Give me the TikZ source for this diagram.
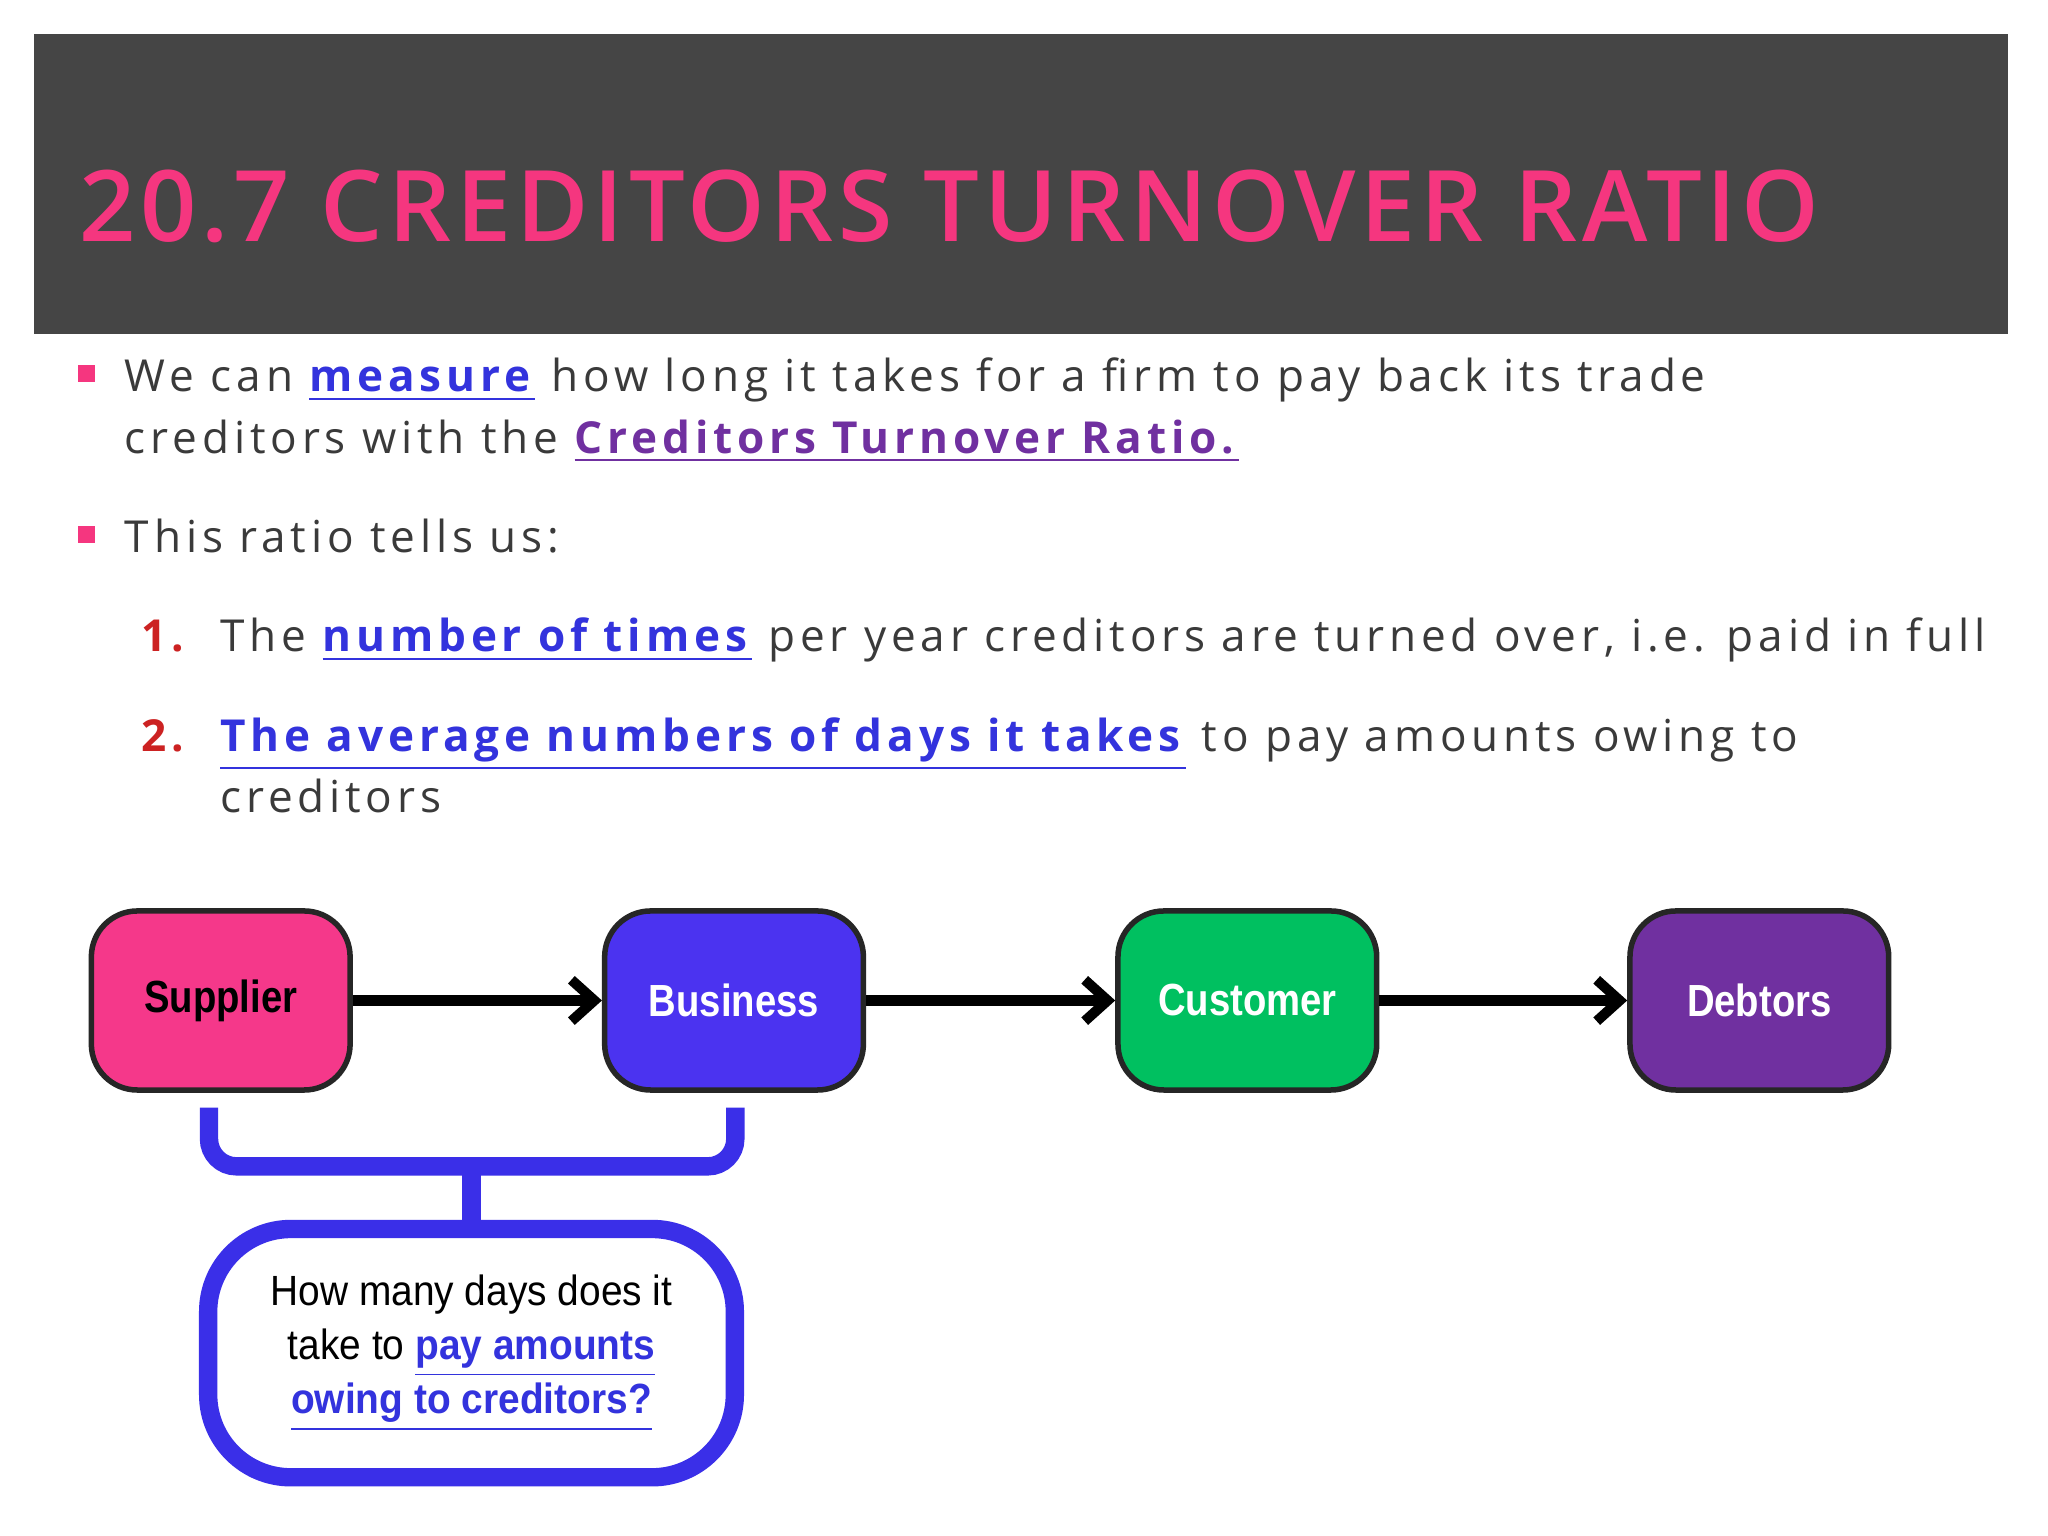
\documentclass[tikz,border=0pt]{standalone}
\usepackage{fontspec}
\setmainfont{Open Sans}
\newfontfamily\titlefont[LetterSpace=5,UprightFont=* Semibold,BoldFont=* Bold]{Open Sans}
\newfontfamily\bodyfont[LetterSpace=11]{Open Sans}
\newfontfamily\boxfont[FakeStretch=0.85]{Liberation Sans}
\newfontfamily\qfont[FakeStretch=0.92]{Liberation Sans}
\definecolor{titlebg}{HTML}{454545}
\definecolor{pinkc}{HTML}{F5367F}
\definecolor{txt}{HTML}{3A3A3A}
\definecolor{linkb}{HTML}{3333DD}
\definecolor{linkp}{HTML}{7030A0}
\definecolor{redn}{HTML}{CC2222}
\definecolor{bpink}{HTML}{F5388A}
\definecolor{bblue}{HTML}{4B33F0}
\definecolor{bgreen}{HTML}{00C060}
\definecolor{bpurp}{HTML}{7030A0}
\definecolor{brk}{HTML}{3A2FE8}
\newcommand{\lb}[1]{\textcolor{linkb}{\underline{\textbf{#1}}}}
\newcommand{\lp}[1]{\textcolor{linkp}{\underline{\textbf{#1}}}}
\usetikzlibrary{arrows.meta}
\tikzset{
  txtline/.style={anchor=base west,inner sep=0,text=txt,font=\bodyfont\fontsize{9.6}{12}\selectfont},
  flow/.style={draw=black!85,line width=1.2pt,rounded corners=10pt,minimum width=1.98cm,minimum height=1.37cm,font=\boxfont\bfseries\fontsize{9.8}{12}\selectfont},
  arr/.style={-{Straight Barb[length=5pt,width=9pt]},line width=2.2pt},
  bul/.style={fill=pinkc,minimum size=0.13cm,inner sep=0}
}
\begin{document}
\begin{tikzpicture}[x=0.01cm,y=-0.01cm]
\useasboundingbox (0,0) rectangle (1568,1176);
\fill[white] (0,0) rectangle (1568,1176);
\fill[titlebg] (26,26) rectangle (1537,256);
\node[anchor=base west,inner sep=0,text=pinkc,font=\titlefont\fontsize{21.5}{26}\selectfont] (title) at (60,185) {20.7 CREDITORS TURNOVER RATIO};
\node[bul] (b1) at (66,286) {};
\node[txtline] (l1) at (95,300) {We can \lb{measure} how long it takes for a firm to pay back its trade};
\node[txtline] (l2) at (95,347) {creditors with the \lp{Creditors Turnover Ratio.}};
\node[bul] (b2) at (66,409) {};
\node[txtline] (l3) at (95,423) {This ratio tells us:};
\node[txtline,text=redn] (n1) at (108,499) {\textbf{1.}};
\node[txtline] (l4) at (168,499) {The \lb{number of times} per year creditors are turned over, i.e. paid in full};
\node[txtline,text=redn] (n2) at (108,575) {\textbf{2.}};
\node[txtline] (l5) at (168,575) {\lb{The average numbers of days it takes} to pay amounts owing to};
\node[txtline] (l6) at (168,622) {creditors};
\node[flow,fill=bpink,text=black] (sup) at (169,766) {Supplier};
\node[flow,fill=bblue,text=white] (bus) at (562,766) {Business};
\node[flow,fill=bgreen,text=white] (cus) at (955,766) {Customer};
\node[flow,fill=bpurp,text=white] (deb) at (1347,766) {Debtors};
\draw[arr] (sup) -- (bus);
\draw[arr] (bus) -- (cus);
\draw[arr] (cus) -- (deb);
\node[draw=brk,line width=4pt,rounded corners=18pt,minimum width=4.03cm,minimum height=1.9cm,align=center,font=\qfont\fontsize{9.2}{11.8}\selectfont] (q) at (361,1036) {How many days does it\\take to \textcolor{linkb}{\underline{\textbf{pay amounts}}}\\\textcolor{linkb}{\underline{\textbf{owing to creditors?}}}};
\coordinate (bl) at (160,848);
\coordinate (br) at (563,848);
\draw[brk,line width=4pt,rounded corners=6pt] (bl) -- (160,893) -- (563,893) -- (br);
\draw[brk,line width=4pt] (361,893) -- (q.north);
\end{tikzpicture}
\end{document}
